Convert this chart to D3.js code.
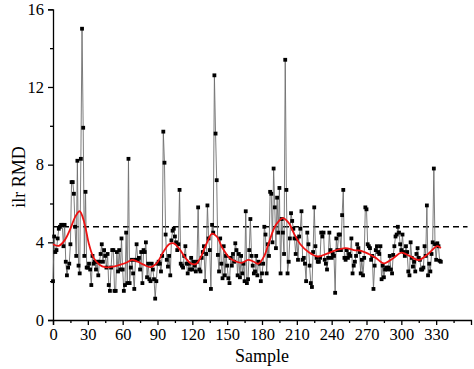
<!DOCTYPE html>
<html>
<head>
<meta charset="utf-8">
<script src="https://d3js.org/d3.v7.min.js"></script>
<style>
  body { margin: 0; background: #fff; }
  text { font-family: "Liberation Serif", "Times New Roman", serif; fill: #000; }
</style>
</head>
<body>
<div id="chart"></div>
<script>
var WIDTH = 474;
var HEIGHT = 369;

// ilr RMD per sample (sample index = position in array)
var ilrRmd = [
  2.0, 4.3, 3.5, 3.6, 4.2, 4.7, 4.8, 4.9, 4.9, 3.8,
  4.9, 3.0, 2.3, 2.7, 2.9, 3.9, 7.1, 7.1, 6.5, 4.8,
  3.3, 8.2, 2.8, 2.4, 8.3, 15.0, 9.9, 3.3, 6.6, 2.7,
  2.7, 2.9, 2.6, 1.8, 3.3, 2.9, 3.0, 2.6, 3.0, 2.3,
  3.0, 3.4, 3.9, 3.0, 3.6, 3.3, 2.7, 3.4, 1.8, 1.5,
  2.7, 3.6, 3.6, 1.5, 1.5, 3.5, 2.5, 3.6, 2.6, 4.2,
  2.6, 1.5, 1.8, 4.5, 1.9, 8.3, 1.9, 2.7, 3.1, 2.4,
  1.6, 3.1, 3.9, 3.1, 3.2, 2.6, 3.5, 1.9, 3.6, 3.5,
  4.0, 2.2, 2.9, 2.1, 2.0, 2.9, 2.6, 2.1, 1.1, 2.0,
  2.9, 3.0, 2.9, 2.5, 3.3, 9.7, 8.1, 4.4, 3.1, 2.75,
  3.3, 2.3, 4.1, 4.6, 4.7, 4.3, 4.0, 3.6, 3.9, 6.7,
  2.9, 2.8, 2.7, 3.3, 3.8, 2.9, 2.4, 2.9, 2.6, 3.2,
  2.6, 3.0, 2.8, 2.5, 3.0, 5.8, 2.6, 2.5, 3.2, 3.5,
  3.8, 2.0, 3.4, 5.9, 4.2, 3.6, 1.6, 4.9, 4.5, 12.6,
  9.6, 7.2, 3.35, 2.5, 4.2, 2.9, 2.15, 3.8, 2.3, 3.3,
  2.8, 2.15, 1.9, 3.2, 2.8, 3.4, 3.0, 3.95, 3.6, 2.3,
  3.4, 2.2, 3.3, 2.4, 2.9, 2.0, 5.6, 1.9, 2.1, 3.6,
  5.2, 3.3, 2.8, 2.4, 2.5, 3.3, 2.3, 3.0, 2.9, 2.0,
  2.4, 2.9, 4.8, 4.4, 2.4, 3.9, 3.3, 6.6, 6.5, 4.0,
  7.8, 5.8, 3.7, 6.3, 4.5, 6.8, 2.4, 5.2, 4.5, 3.4,
  13.4, 6.7, 2.4, 3.0, 4.2, 5.5, 5.1, 4.7, 4.2, 3.4,
  4.2, 3.1, 4.3, 4.7, 5.6, 3.1, 3.2, 2.9, 2.0, 4.5,
  3.9, 2.8, 1.9, 1.7, 3.5, 5.8, 3.8, 3.2, 3.0, 3.0,
  3.2, 4.5, 4.3, 4.5, 3.1, 2.9, 2.6, 3.2, 4.5, 3.6,
  3.2, 3.4, 3.3, 1.4, 4.2, 3.6, 4.4, 4.4, 3.6, 5.4,
  6.7, 3.2, 3.1, 3.6, 3.2, 3.4, 3.3, 4.2, 2.4, 2.8,
  3.0, 3.3, 3.9, 3.7, 3.5, 2.4, 3.1, 2.3, 3.2, 5.8,
  5.7, 3.9, 3.8, 3.7, 3.1, 3.3, 1.6, 2.8, 3.6, 3.8,
  3.5, 3.4, 3.8, 2.1, 2.8, 2.2, 2.6, 2.7, 2.6, 2.7,
  3.3, 2.6, 2.4, 3.35, 3.8, 4.3, 4.4, 4.8, 4.5, 3.9,
  3.6, 4.4, 3.5, 3.3, 3.8, 3.5, 2.5, 2.3, 4.0, 3.2,
  2.75, 3.0, 2.5, 3.4, 3.7, 3.2, 3.1, 2.6, 2.6, 2.7,
  3.8, 3.3, 5.9, 2.3, 2.9, 2.5, 3.4, 4.0, 7.8, 3.9,
  3.1, 3.95, 3.8, 3.05, 3.0
];

// smoothed trend (red)
var trendSample = [0, 5, 10, 15, 19, 23, 27, 31, 35, 40, 45, 52, 58, 63, 68, 73, 78, 84, 89, 95,
                   100, 104, 109, 114, 119, 123, 127, 132, 137, 141, 146, 152, 158, 163, 168, 173,
                   177, 182, 186, 192, 198, 203, 208, 213, 220, 228, 236, 244, 252, 259, 266, 272,
                   278, 285, 293, 300, 307, 315, 323, 331, 334];
var trendValue = [3.9, 3.82, 4.1, 4.7, 5.3, 5.6, 5.0, 3.9, 3.2, 2.85, 2.72, 2.75, 2.85, 2.95, 3.1, 3.0, 2.85, 2.72, 2.9, 3.5,
                  3.9, 3.95, 3.65, 3.2, 2.9, 2.88, 3.2, 3.9, 4.45, 4.3, 3.7, 3.2, 3.0, 2.95, 3.1, 3.0,
                  2.9, 3.3, 4.0, 4.9, 5.25, 5.0, 4.4, 3.9, 3.5, 3.27, 3.42, 3.6, 3.7, 3.6, 3.55, 3.4,
                  3.2, 2.92, 3.18, 3.47, 3.3, 3.09, 3.4, 3.8, 3.7];

var threshold = 4.8;

var xTicks = [0, 30, 60, 90, 120, 150, 180, 210, 240, 270, 300, 330];
var xMinor = [15, 45, 75, 105, 135, 165, 195, 225, 255, 285, 315, 345];
var yTicks = [0, 4, 8, 12, 16];
var yMinor = [2, 6, 10, 14];


function makeChart()
{
    var svg = d3.select("#chart").append("svg")
                .attr("width", WIDTH)
                .attr("height", HEIGHT);

    var x = d3.scaleLinear().domain([0, 360]).range([53, 471]);
    var y = d3.scaleLinear().domain([0, 16]).range([320, 9.3]);

    // axes
    svg.append("g")
       .attr("transform", "translate(0," + y(0) + ")")
       .call(d3.axisBottom(x).tickValues(xMinor).tickSize(3).tickFormat(""))
       .call(function(g) { g.select(".domain").remove(); });

    var xAxis = svg.append("g")
       .attr("transform", "translate(0," + y(0) + ")")
       .call(d3.axisBottom(x).tickValues(xTicks).tickSizeOuter(0).tickSize(5).tickPadding(3));

    svg.append("g")
       .attr("transform", "translate(" + x(0) + ",0)")
       .call(d3.axisLeft(y).tickValues(yMinor).tickSize(3).tickFormat(""))
       .call(function(g) { g.select(".domain").remove(); });

    var yAxis = svg.append("g")
       .attr("transform", "translate(" + x(0) + ",0)")
       .call(d3.axisLeft(y).tickValues(yTicks).tickSizeOuter(0).tickSize(5).tickPadding(4));

    svg.selectAll(".domain, .tick line")
       .attr("stroke", "#000")
       .attr("stroke-width", 1.3);

    xAxis.selectAll("text").style("font-size", "16.5px").attr("font-family", null);
    yAxis.selectAll("text").style("font-size", "16.5px").attr("font-family", null);

    // threshold
    svg.append("line")
       .attr("x1", x(0)).attr("x2", x(357))
       .attr("y1", y(threshold)).attr("y2", y(threshold))
       .attr("stroke", "#000")
       .attr("stroke-width", 1.4)
       .attr("stroke-dasharray", "6,4");

    // raw series
    var line = d3.line()
                 .x(function(d, i) { return x(i); })
                 .y(function(d) { return y(d); });

    svg.append("path")
       .datum(ilrRmd)
       .attr("d", line)
       .attr("fill", "none")
       .attr("stroke", "#6e6e6e")
       .attr("stroke-width", 0.9);

    svg.selectAll(".pt")
       .data(ilrRmd)
       .enter().append("rect")
       .attr("class", "pt")
       .attr("x", function(d, i) { return x(i) - 1.9; })
       .attr("y", function(d) { return y(d) - 1.9; })
       .attr("width", 3.8)
       .attr("height", 3.8)
       .attr("fill", "#000");

    // trend
    var trend = trendSample.map(function(s, i) { return [s, trendValue[i]]; });
    svg.append("path")
       .datum(trend)
       .attr("d", d3.line()
                    .x(function(d) { return x(d[0]); })
                    .y(function(d) { return y(d[1]); })
                    .curve(d3.curveCatmullRom))
       .attr("fill", "none")
       .attr("stroke", "#ee1111")
       .attr("stroke-width", 1.8);

    // labels
    svg.append("text")
       .attr("x", 262)
       .attr("y", 362)
       .attr("text-anchor", "middle")
       .style("font-size", "18px")
       .text("Sample");

    svg.append("text")
       .attr("transform", "translate(25,177) rotate(-90)")
       .attr("text-anchor", "middle")
       .style("font-size", "18px")
       .text("ilr RMD");
}


makeChart();
</script>
</body>
</html>
